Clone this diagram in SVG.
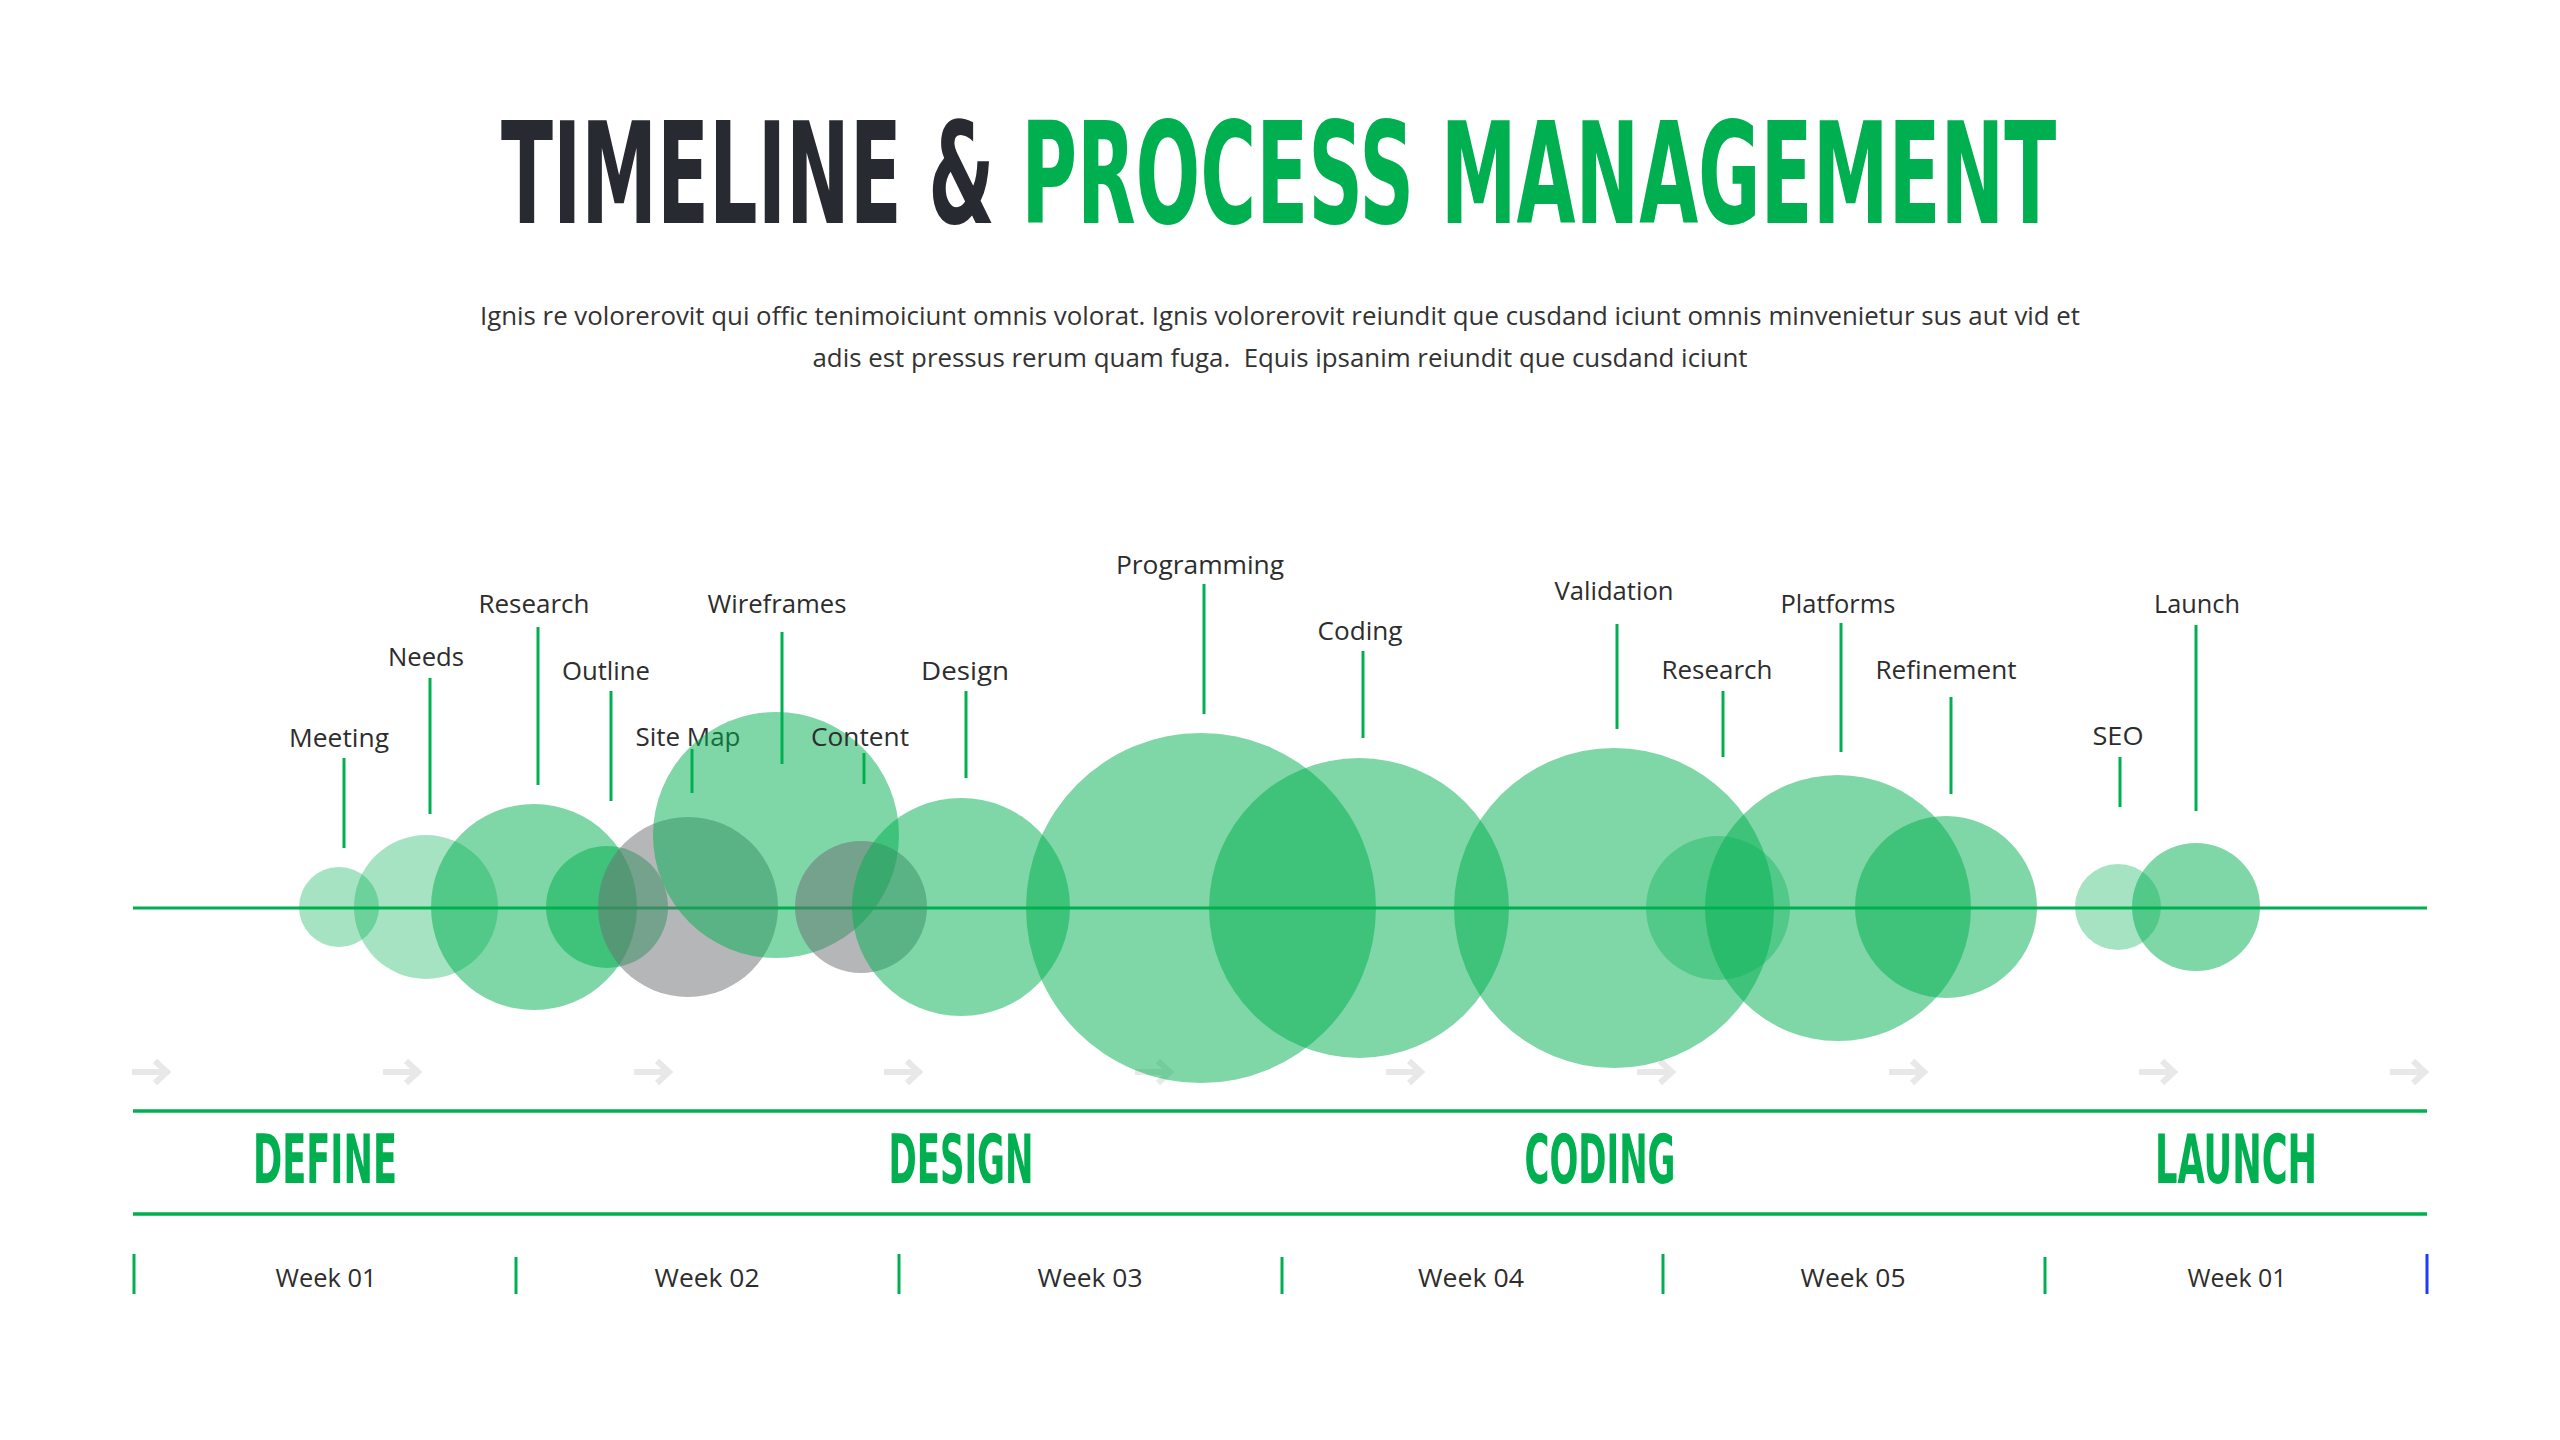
<svg xmlns="http://www.w3.org/2000/svg" xmlns:xlink="http://www.w3.org/1999/xlink" width="2560" height="1440" viewBox="0 0 2560 1440">
<style>
.title{font-family:"Liberation Sans Narrow","DejaVu Sans Condensed","Liberation Sans",sans-serif;font-weight:bold;font-size:141px}
.phase{font-family:"Liberation Sans Narrow","DejaVu Sans Condensed","Liberation Sans",sans-serif;font-weight:bold;font-size:67px;fill:#00b050;text-anchor:middle}
.body{font-family:"Open Sans","Noto Sans","Liberation Sans",sans-serif;font-size:26px;fill:#333333;text-anchor:middle}
.lbl{font-family:"Open Sans","Noto Sans","Liberation Sans",sans-serif;font-size:25px;fill:#2d2d2d;text-anchor:middle}
.mid{fill:#00b050;fill-opacity:0.5}
.light{fill:#00b050;fill-opacity:0.35}
.grey{fill:#696d71;fill-opacity:0.5}
.lead{stroke:#00b050;stroke-width:3;fill:none}
.rule{stroke:#00b050;stroke-width:3.5;fill:none}
.tick{stroke:#00b050;stroke-width:3}
.arr{stroke:#e8e8e8;stroke-width:6;fill:none}
</style>
<defs>
<path id="arrow" class="arr" d="M-19 0 H15 M4 -11 L16 0 L4 11"/>
</defs>
<rect width="2560" height="1440" fill="#ffffff"/>

<g id="title">
<text class="title" transform="translate(501,223) scale(0.6,1)" x="0" y="0" textLength="2592" lengthAdjust="spacingAndGlyphs"><tspan fill="#272a30">TIMELINE &amp; </tspan><tspan fill="#00b050">PROCESS MANAGEMENT</tspan></text>
</g>
<g id="subtitle">
<text class="body" x="1280" y="325" textLength="1600" lengthAdjust="spacingAndGlyphs">Ignis re volorerovit qui offic tenimoiciunt omnis volorat. Ignis volorerovit reiundit que cusdand iciunt omnis minvenietur sus aut vid et</text>
<text class="body" x="1280" y="367" textLength="935" lengthAdjust="spacingAndGlyphs" xml:space="preserve">adis est pressus rerum quam fuga.  Equis ipsanim reiundit que cusdand iciunt</text>
</g>

<g id="arrows">
<use xlink:href="#arrow" href="#arrow" x="151" y="1072"/>
<use xlink:href="#arrow" href="#arrow" x="402" y="1072"/>
<use xlink:href="#arrow" href="#arrow" x="653" y="1072"/>
<use xlink:href="#arrow" href="#arrow" x="903" y="1072"/>
<use xlink:href="#arrow" href="#arrow" x="1154" y="1072"/>
<use xlink:href="#arrow" href="#arrow" x="1405" y="1072"/>
<use xlink:href="#arrow" href="#arrow" x="1656" y="1072"/>
<use xlink:href="#arrow" href="#arrow" x="1908" y="1072"/>
<use xlink:href="#arrow" href="#arrow" x="2158" y="1072"/>
<use xlink:href="#arrow" href="#arrow" x="2409" y="1072"/>
</g>

<line id="axis" x1="133" y1="908" x2="2427" y2="908" stroke="#00b050" stroke-width="3"/>

<g id="connectors">
<line class="lead" x1="344" y1="758" x2="344" y2="848"/>
<line class="lead" x1="430" y1="678" x2="430" y2="814"/>
<line class="lead" x1="538" y1="627" x2="538" y2="785"/>
<line class="lead" x1="611" y1="691" x2="611" y2="801"/>
<line class="lead" x1="692" y1="749" x2="692" y2="793"/>
<line class="lead" x1="782" y1="632" x2="782" y2="764"/>
<line class="lead" x1="864" y1="753" x2="864" y2="784"/>
<line class="lead" x1="966" y1="691" x2="966" y2="778"/>
<line class="lead" x1="1204" y1="584" x2="1204" y2="714"/>
<line class="lead" x1="1363" y1="651" x2="1363" y2="738"/>
<line class="lead" x1="1617" y1="624" x2="1617" y2="729"/>
<line class="lead" x1="1723" y1="691" x2="1723" y2="757"/>
<line class="lead" x1="1841" y1="623" x2="1841" y2="752"/>
<line class="lead" x1="1951" y1="697" x2="1951" y2="794"/>
<line class="lead" x1="2120" y1="757" x2="2120" y2="807"/>
<line class="lead" x1="2196" y1="625" x2="2196" y2="811"/>
</g>

<g id="node-meeting"><circle class="light" cx="339" cy="907" r="40"/><text class="lbl" x="339" y="747" textLength="100" lengthAdjust="spacingAndGlyphs">Meeting</text></g>
<g id="node-needs"><circle class="light" cx="426" cy="907" r="72"/><text class="lbl" x="426" y="666" textLength="76" lengthAdjust="spacingAndGlyphs">Needs</text></g>
<g id="node-research"><circle class="mid" cx="534" cy="907" r="103"/><text class="lbl" x="534" y="613" textLength="111" lengthAdjust="spacingAndGlyphs">Research</text></g>
<g id="node-outline"><circle class="mid" cx="607" cy="907" r="61"/><text class="lbl" x="606" y="680" textLength="88" lengthAdjust="spacingAndGlyphs">Outline</text></g>
<g id="node-sitemap"><circle class="grey" cx="688" cy="907" r="90"/><text class="lbl" x="688" y="746" textLength="105" lengthAdjust="spacingAndGlyphs">Site Map</text></g>
<g id="node-wireframes"><circle class="mid" cx="776" cy="835" r="123"/><text class="lbl" x="777" y="613" textLength="139" lengthAdjust="spacingAndGlyphs">Wireframes</text></g>
<g id="node-content"><circle class="grey" cx="861" cy="907" r="66"/><text class="lbl" x="860" y="746" textLength="98" lengthAdjust="spacingAndGlyphs">Content</text></g>
<g id="node-design"><circle class="mid" cx="961" cy="907" r="109"/><text class="lbl" x="965" y="680" textLength="88" lengthAdjust="spacingAndGlyphs">Design</text></g>
<g id="node-programming"><circle class="mid" cx="1201" cy="908" r="175"/><text class="lbl" x="1200" y="574" textLength="168" lengthAdjust="spacingAndGlyphs">Programming</text></g>
<g id="node-coding"><circle class="mid" cx="1359" cy="908" r="150"/><text class="lbl" x="1360" y="640" textLength="85" lengthAdjust="spacingAndGlyphs">Coding</text></g>
<g id="node-validation"><circle class="mid" cx="1614" cy="908" r="160"/><text class="lbl" x="1614" y="600" textLength="119" lengthAdjust="spacingAndGlyphs">Validation</text></g>
<g id="node-research2"><circle class="light" cx="1718" cy="908" r="72"/><text class="lbl" x="1717" y="679" textLength="111" lengthAdjust="spacingAndGlyphs">Research</text></g>
<g id="node-platforms"><circle class="mid" cx="1838" cy="908" r="133"/><text class="lbl" x="1838" y="613" textLength="115" lengthAdjust="spacingAndGlyphs">Platforms</text></g>
<g id="node-refinement"><circle class="mid" cx="1946" cy="907" r="91"/><text class="lbl" x="1946" y="679" textLength="141" lengthAdjust="spacingAndGlyphs">Refinement</text></g>
<g id="node-seo"><circle class="light" cx="2118" cy="907" r="43"/><text class="lbl" x="2118" y="745" textLength="51" lengthAdjust="spacingAndGlyphs">SEO</text></g>
<g id="node-launch"><circle class="mid" cx="2196" cy="907" r="64"/><text class="lbl" x="2197" y="613" textLength="86" lengthAdjust="spacingAndGlyphs">Launch</text></g>

<g id="phases">
<line class="rule" x1="133" y1="1111" x2="2427" y2="1111"/>
<line class="rule" x1="133" y1="1214" x2="2427" y2="1214"/>
<text class="phase" x="325" y="1183" textLength="144" lengthAdjust="spacingAndGlyphs">DEFINE</text>
<text class="phase" x="961" y="1183" textLength="145" lengthAdjust="spacingAndGlyphs">DESIGN</text>
<text class="phase" x="1600" y="1183" textLength="151" lengthAdjust="spacingAndGlyphs">CODING</text>
<text class="phase" x="2236" y="1183" textLength="162" lengthAdjust="spacingAndGlyphs">LAUNCH</text>
</g>

<g id="weeks">
<line class="tick" x1="134" y1="1254" x2="134" y2="1294"/>
<line class="tick" x1="516" y1="1257" x2="516" y2="1294"/>
<line class="tick" x1="899" y1="1254" x2="899" y2="1294"/>
<line class="tick" x1="1282" y1="1257" x2="1282" y2="1294"/>
<line class="tick" x1="1663" y1="1254" x2="1663" y2="1294"/>
<line class="tick" x1="2045" y1="1257" x2="2045" y2="1294"/>
<line x1="2427" y1="1254" x2="2427" y2="1294" stroke="#1a3cff" stroke-width="3"/>
<text class="lbl" x="326" y="1287" textLength="101" lengthAdjust="spacingAndGlyphs">Week 01</text>
<text class="lbl" x="707" y="1287" textLength="105" lengthAdjust="spacingAndGlyphs">Week 02</text>
<text class="lbl" x="1090" y="1287" textLength="105" lengthAdjust="spacingAndGlyphs">Week 03</text>
<text class="lbl" x="1471" y="1287" textLength="106" lengthAdjust="spacingAndGlyphs">Week 04</text>
<text class="lbl" x="1853" y="1287" textLength="105" lengthAdjust="spacingAndGlyphs">Week 05</text>
<text class="lbl" x="2237" y="1287" textLength="99" lengthAdjust="spacingAndGlyphs">Week 01</text>
</g>
</svg>
